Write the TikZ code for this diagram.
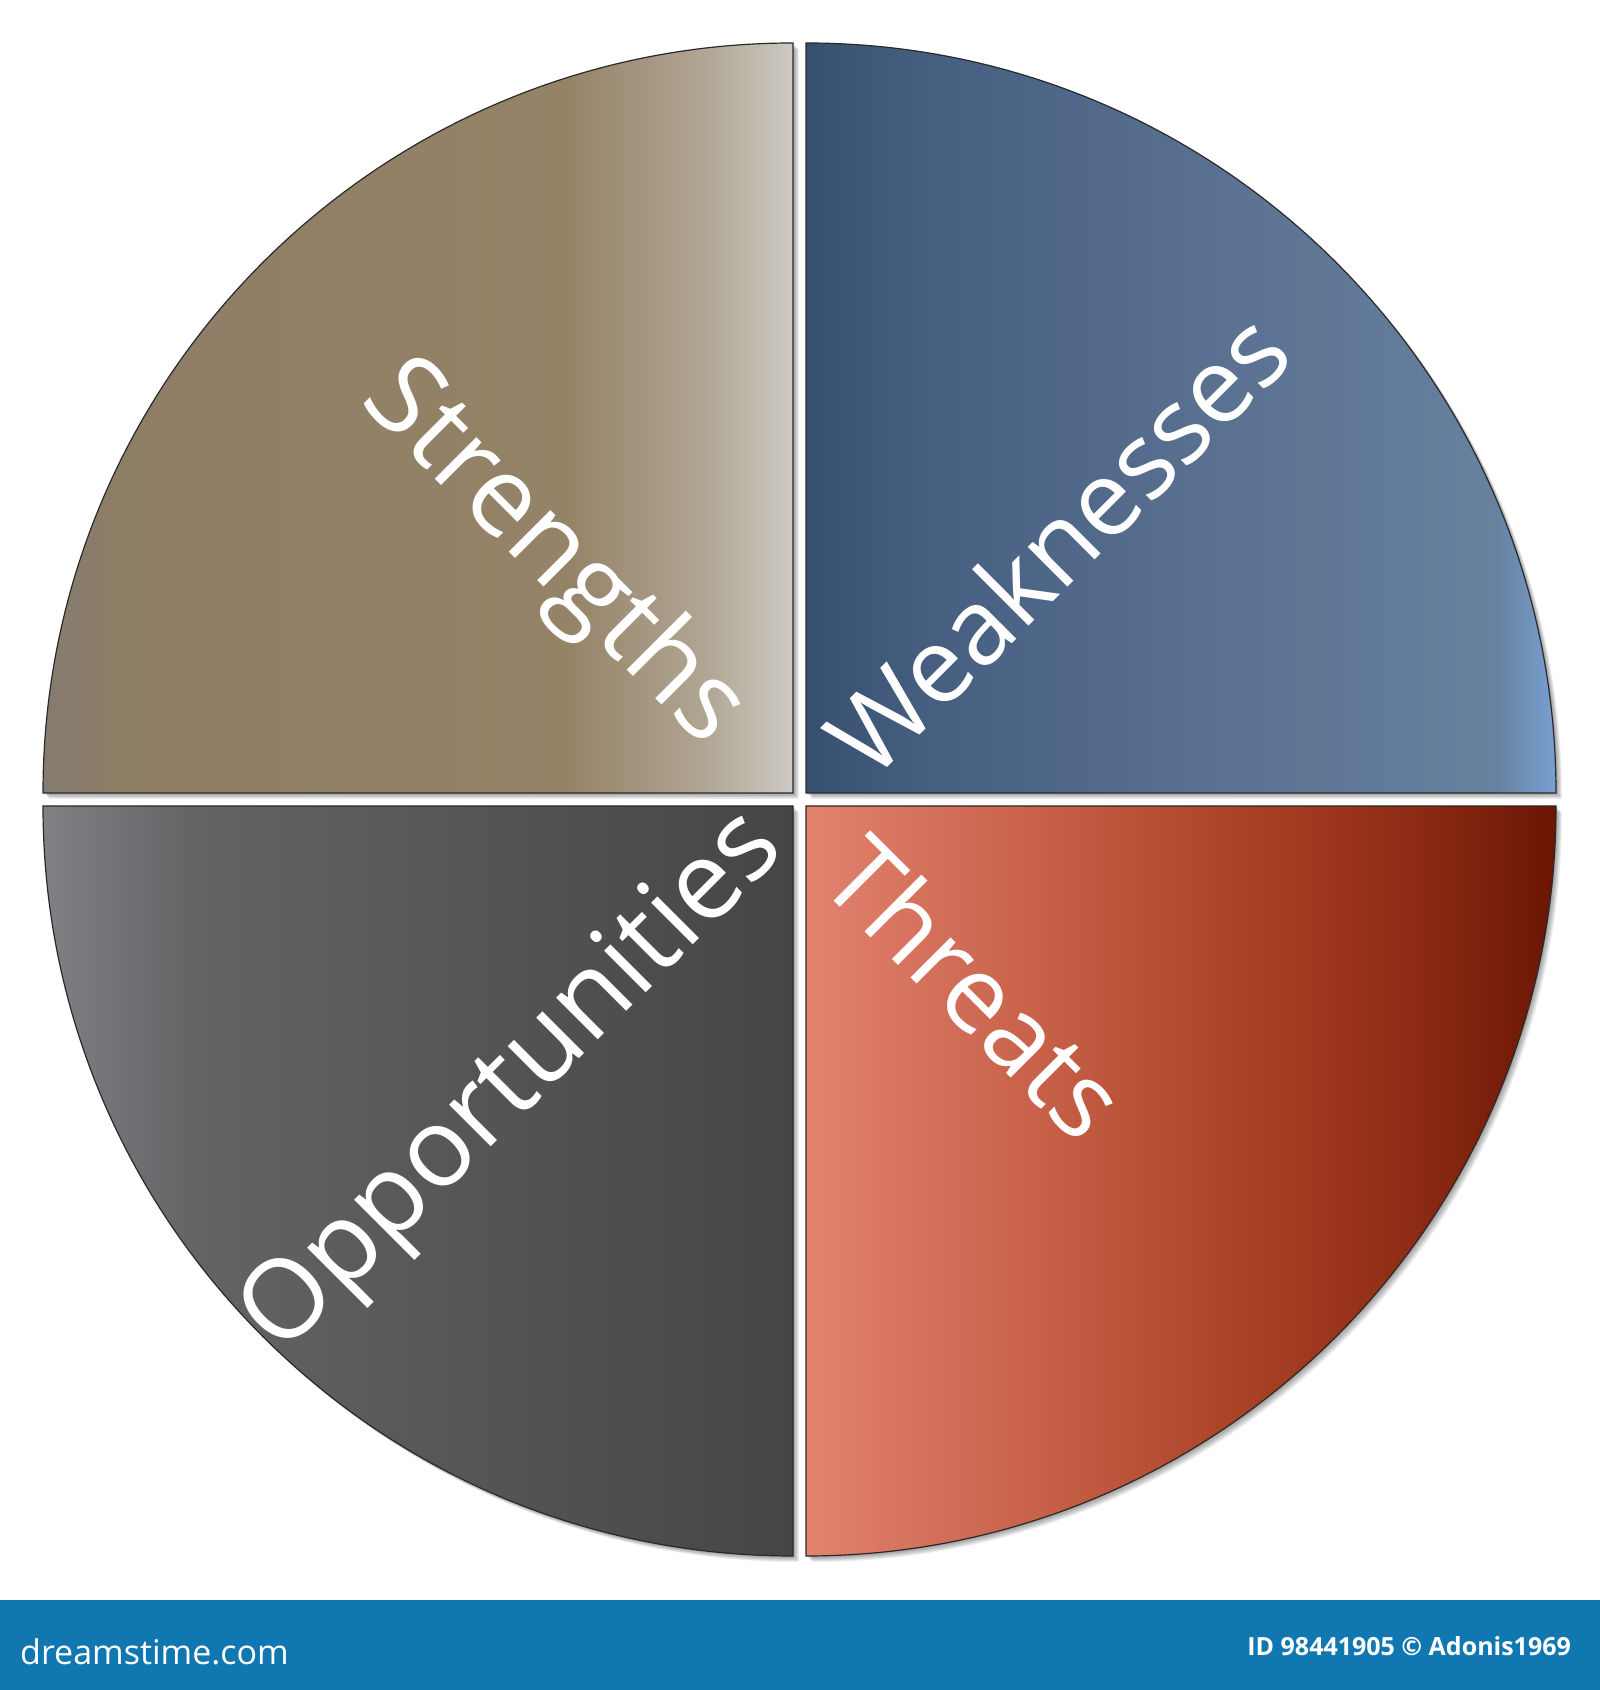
\documentclass[tikz,border=0pt]{standalone}
\usepackage{fontspec}
\setmainfont{Open Sans}
\newfontfamily\bannerfont{Open Sans}
\definecolor{sA}{HTML}{857B71}
\definecolor{sB}{HTML}{8E7D65}
\definecolor{sC}{HTML}{958368}
\definecolor{sD}{HTML}{B0A593}
\definecolor{sE}{HTML}{CDCAC3}
\definecolor{wA}{HTML}{37506F}
\definecolor{wB}{HTML}{455E80}
\definecolor{wC}{HTML}{5D7393}
\definecolor{wD}{HTML}{67819F}
\definecolor{wE}{HTML}{78A0D2}
\definecolor{oA}{HTML}{808184}
\definecolor{oB}{HTML}{636466}
\definecolor{oC}{HTML}{58585A}
\definecolor{oD}{HTML}{454547}
\definecolor{tA}{HTML}{E2826F}
\definecolor{tB}{HTML}{C8624A}
\definecolor{tC}{HTML}{AD4528}
\definecolor{tD}{HTML}{8F2C15}
\definecolor{tE}{HTML}{6A1604}
\definecolor{banner}{HTML}{1077B0}
\definecolor{edge}{HTML}{2A2A2A}
\pgfdeclarehorizontalshading{shStr}{100bp}{color(0bp)=(sA); color(25bp)=(sA); color(30bp)=(sB); color(60bp)=(sC); color(69bp)=(sD); color(75bp)=(sE); color(100bp)=(sE)}
\pgfdeclarehorizontalshading{shWea}{100bp}{color(0bp)=(wA); color(25bp)=(wA); color(32.5bp)=(wB); color(55bp)=(wC); color(71bp)=(wD); color(75bp)=(wE); color(100bp)=(wE)}
\pgfdeclarehorizontalshading{shOpp}{100bp}{color(0bp)=(oA); color(25bp)=(oA); color(35bp)=(oB); color(50bp)=(oC); color(75bp)=(oD); color(100bp)=(oD)}
\pgfdeclarehorizontalshading{shThr}{100bp}{color(0bp)=(tA); color(25bp)=(tA); color(40bp)=(tB); color(52.5bp)=(tC); color(65bp)=(tD); color(75bp)=(tE); color(100bp)=(tE)}
\tikzset{
  quad/.style={draw=edge, line width=1.2pt},
  shadowpiece/.style={fill=black, opacity=0.07},
  label/.style={text=white, font=\fontsize{110}{120}\selectfont, inner sep=0pt}
}
\newcommand{\qTL}{(793,897) -- ++(-750,0) arc[start angle=180,end angle=90,radius=750] -- cycle}
\newcommand{\qTR}{(806,897) -- ++(0,750) arc[start angle=90,end angle=0,radius=750] -- cycle}
\newcommand{\qBR}{(806,884) -- ++(750,0) arc[start angle=0,end angle=-90,radius=750] -- cycle}
\newcommand{\qBL}{(793,884) -- ++(0,-750) arc[start angle=-90,end angle=-180,radius=750] -- cycle}
\begin{document}
\begin{tikzpicture}[x=1pt,y=1pt]
\useasboundingbox (0,0) rectangle (1600,1690);
\fill[white] (0,0) rectangle (1600,1690);
% shadows
\foreach \k in {1,...,6}{
  \fill[shadowpiece, shift={(\k,-\k)}] \qTL;
  \fill[shadowpiece, shift={(\k,-\k)}] \qTR;
  \fill[shadowpiece, shift={(\k,-\k)}] \qBR;
  \fill[shadowpiece, shift={(\k,-\k)}] \qBL;
}
% quadrants
\path[quad, shading=shStr] \qTL;
\path[quad, shading=shWea] \qTR;
\path[quad, shading=shThr] \qBR;
\path[quad, shading=shOpp] \qBL;
% labels
\node[label, rotate=-45] (str) at (552,1135) {Strengths};
\node[label, rotate=45, font=\fontsize{105}{115}\selectfont] (wea) at (1057,1147) {Weaknesses};
\node[label, rotate=45] (opp) at (515,605) {Opportunities};
\node[label, rotate=-45, font=\fontsize{106}{115}\selectfont] (thr) at (976,703) {Threats};
% banner
\fill[banner] (0,0) rectangle (1600,90);
\node[anchor=west, text=white, inner sep=0pt, font=\bannerfont\fontsize{34}{40}\selectfont] (logo) at (20,38) {dreamstime.com};
\node[anchor=east, text=white, inner sep=0pt, font=\bannerfont\bfseries\fontsize{25}{30}\selectfont] (credit) at (1571,44) {ID 98441905 © Adonis1969};
\end{tikzpicture}
\end{document}
